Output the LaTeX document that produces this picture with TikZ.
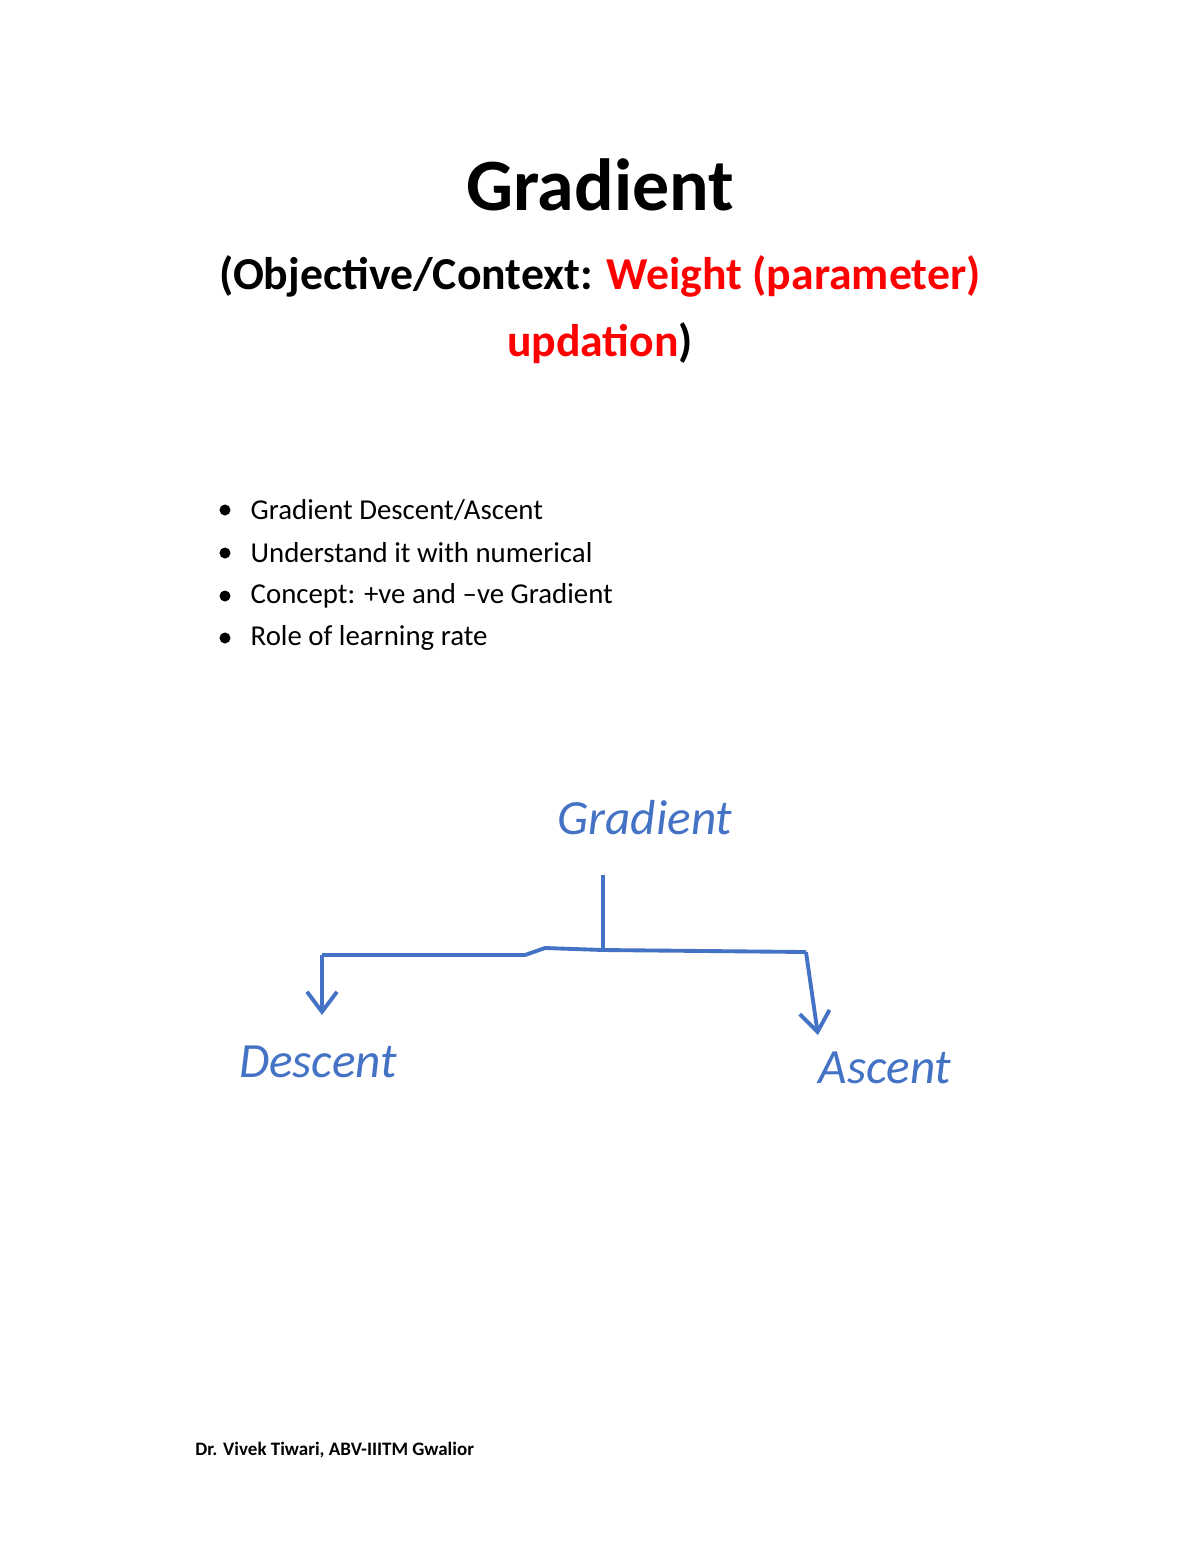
\documentclass[tikz,border=0pt]{standalone}
\usepackage{fontspec}
\setmainfont{Carlito}
\usetikzlibrary{arrows.meta,positioning}
\definecolor{pen}{RGB}{68,114,196}
\definecolor{hl}{RGB}{255,0,0}
\tikzset{
    >={Stealth[]},
    bullet/.style={anchor=west,inner sep=0pt,font=\fontsize{8.2}{10}\selectfont},
    hand/.style={text=pen,font=\itshape\fontsize{14}{17}\selectfont},
    pen line/.style={draw=pen,line width=1.1pt}
}
\begin{document}
\begin{tikzpicture}[x=0.01cm,y=-0.01cm]
    \useasboundingbox (0,0) rectangle (1200,1553);

    % Heading
    \node[font=\bfseries\fontsize{21}{25}\selectfont] (title) at (600,185) {Gradient};
    \node[font=\bfseries\fontsize{13}{17}\selectfont,align=center] (sub) at (600,310)
        {(Objective/Context: \textcolor{hl}{Weight (parameter)}\\[2pt] \textcolor{hl}{updation})};

    % Bullets
    \foreach \y/\t in {510/{Gradient Descent/Ascent}, 553/{Understand it with numerical},
                       596/{Concept: +ve and --ve Gradient}, 638/{Role of learning rate}} {
        \node[circle,fill,inner sep=0pt,minimum size=0.11cm] at (225,\y) {};
        \node[bullet] at (250,\y) {\t};
    }

    % Hand drawn tree
    \node[hand] (hGrad) at (645,818) {Gradient};
    \node[hand] (hDesc) at (318,1062) {Descent};
    \node[hand] (hAsc) at (885,1068) {Ascent};
    \coordinate (top) at (603,875);
    \coordinate (mid) at (603,950);
    \coordinate (left) at (322,955);
    \coordinate (right) at (806,952);
    \draw[pen line] (top) -- (mid);
    \draw[pen line] (left) -- (525,955) -- (545,948) -- (mid) -- (right);
    \draw[pen line,-{Straight Barb[length=0.2cm,width=0.3cm]}] (left) -- (322,1015);
    \draw[pen line,-{Straight Barb[length=0.2cm,width=0.3cm]}] (right) -- (818,1035);

    % Footer
    \node[anchor=west,font=\bfseries\fontsize{5.4}{7}\selectfont] (foot) at (183,1450) {Dr. Vivek Tiwari, ABV-IIITM Gwalior};
\end{tikzpicture}
\end{document}
